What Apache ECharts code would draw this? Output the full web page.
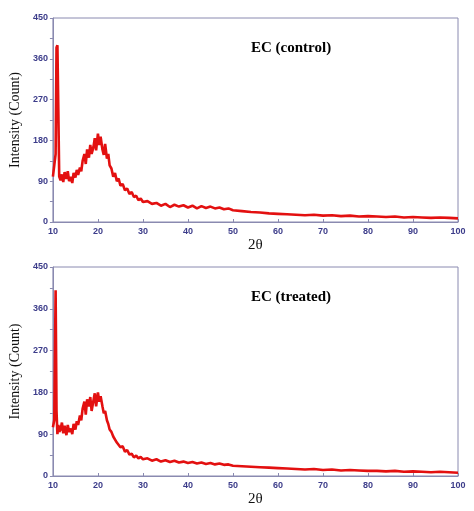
<!DOCTYPE html>
<html><head><meta charset="utf-8">
<script src="https://cdn.jsdelivr.net/npm/echarts@6/dist/echarts.min.js"></script>
<style>html,body{margin:0;background:#fff}#c{width:474px;height:511px}</style>
</head><body><div id="c"></div>
<script>
// 2θ positions (degrees)
const twoTheta = [10,10.3,10.6,10.8,11,11.2,11.4,11.7,12,12.3,12.6,13,13.3,13.6,14,14.3,14.6,15,15.3,15.6,16,16.3,16.6,17,17.3,17.6,18,18.3,18.6,19,19.3,19.6,20,20.3,20.6,21,21.3,21.6,22,22.3,22.6,23,23.4,23.8,24.2,24.6,25,25.5,26,26.5,27,27.5,28,28.5,29,29.5,30,31,32,33,34,35,36,37,38,39,40,41,42,43,44,45,46,47,48,49,50,52,54,56,58,60,62,64,66,68,70,72,74,76,78,80,82,84,86,88,90,92,94,96,98,100];
// EC (control) intensity
const controlCounts = [100,125,150,385,390,250,100,92,105,88,110,95,112,90,100,86,108,98,115,104,120,112,135,150,128,160,142,170,150,165,185,158,195,170,188,160,148,172,140,150,125,118,100,108,90,96,80,84,70,74,62,66,55,58,48,52,44,46,40,42,36,40,33,38,34,37,32,36,30,35,31,34,30,32,28,30,26,24,22,21,19,18,17,16,15,16,14,15,13,14,12,13,12,11,12,10,11,10,9,10,9,8];
// EC (treated) intensity
const treatedCounts = [105,120,400,140,90,110,95,100,115,92,108,88,110,95,102,90,112,100,118,110,130,120,145,160,132,165,150,170,140,162,178,150,180,160,172,150,135,140,120,112,100,95,85,88,72,76,62,64,52,56,46,48,40,44,38,41,36,38,33,36,31,34,30,33,29,31,28,30,27,29,26,28,25,27,24,25,22,21,20,19,18,17,16,15,14,15,13,14,12,13,12,11,11,10,11,9,10,9,8,9,8,7];
const yTicks = [0,90,180,270,360,450];

const labelColor = '#3c3c8a';
const frameColor = '#8a8ab0';
function pts(ys){ return twoTheta.map((x,i)=>[x,ys[i]]); }
function xAxis(idx){
  return {type:'value',gridIndex:idx,min:10,max:100,interval:10,name:'2θ',nameLocation:'middle',nameGap:16,
    nameTextStyle:{fontFamily:'Liberation Serif',fontSize:15,color:'#111'},
    axisLine:{lineStyle:{color:frameColor}},axisTick:{inside:true,length:3,lineStyle:{color:frameColor}},
    axisLabel:{color:labelColor,fontSize:9,fontWeight:'bold',margin:5},splitLine:{show:false}};
}
function yAxis(idx){
  return {type:'value',gridIndex:idx,min:0,max:450,interval:90,name:'Intensity (Count)',nameLocation:'middle',nameGap:30,
    nameTextStyle:{fontFamily:'Liberation Serif',fontSize:14,color:'#111'},
    axisLine:{show:true,lineStyle:{color:frameColor}},axisTick:{inside:false,length:3,lineStyle:{color:frameColor}},
    minorTick:{show:true,splitNumber:2,length:3,lineStyle:{color:frameColor}},
    axisLabel:{color:labelColor,fontSize:9,fontWeight:'bold',margin:5},splitLine:{show:false}};
}
const chart = echarts.init(document.getElementById('c'));
chart.setOption({
  animation:false,
  title:[
    {text:'EC (control)',left:246,top:36,textStyle:{fontFamily:'Liberation Serif',fontSize:15,fontWeight:'bold',color:'#000'}},
    {text:'EC (treated)',left:246,top:285,textStyle:{fontFamily:'Liberation Serif',fontSize:15,fontWeight:'bold',color:'#000'}}
  ],
  grid:[
    {left:45,right:16,top:18,height:204,show:true,borderColor:frameColor,borderWidth:1},
    {left:45,right:16,top:267,height:209,show:true,borderColor:frameColor,borderWidth:1}
  ],
  xAxis:[xAxis(0),xAxis(1)],
  yAxis:[yAxis(0),yAxis(1)],
  series:[
    {type:'line',xAxisIndex:0,yAxisIndex:0,data:pts(controlCounts),showSymbol:false,lineStyle:{color:'#e31010',width:2.6}},
    {type:'line',xAxisIndex:1,yAxisIndex:1,data:pts(treatedCounts),showSymbol:false,lineStyle:{color:'#e31010',width:2.6}}
  ]
});
</script></body></html>
